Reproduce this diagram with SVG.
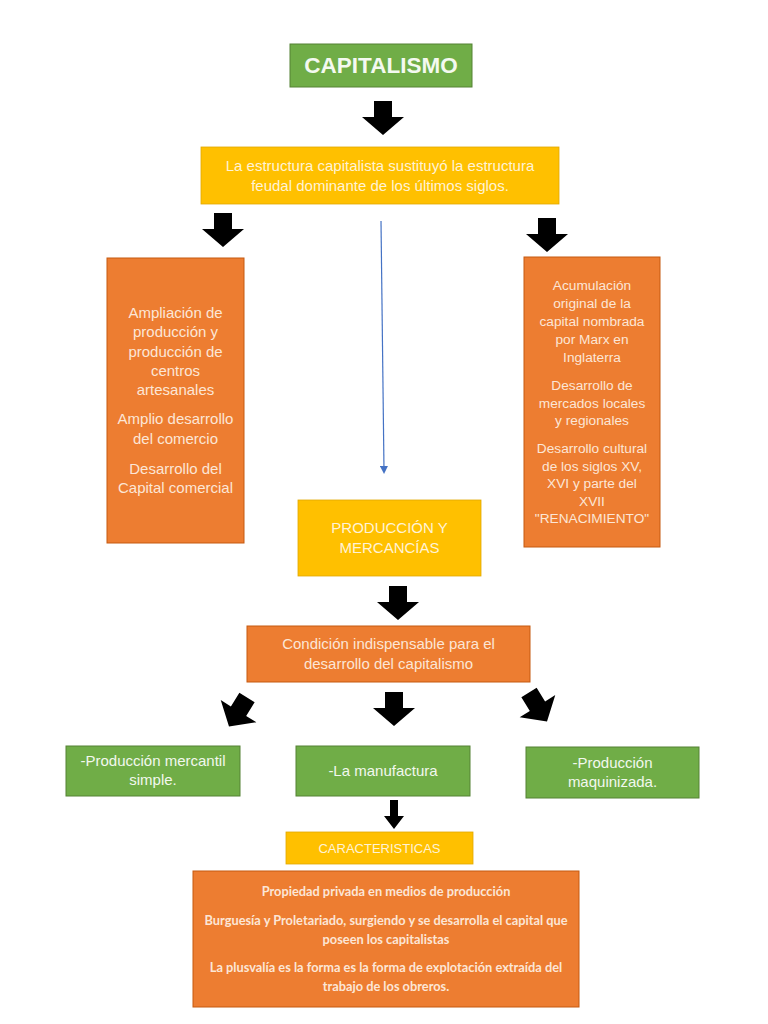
<svg xmlns="http://www.w3.org/2000/svg" width="768" height="1024" viewBox="0 0 768 1024">
<style>
.bg{fill:#ffffff}
.green{fill:#70AD47;stroke:#548235;stroke-width:1}
.yellow{fill:#FFC000;stroke:#E0A800;stroke-width:0.8}
.orange{fill:#ED7D31;stroke:#C55A11;stroke-width:1}
.t{font-family:"Liberation Sans",Arial,sans-serif;text-anchor:middle}
.ty{fill:#FFF3D6;font-size:15px}
.to{fill:#FCE6D6;font-size:15px}
.to14{fill:#FCE6D6;font-size:13.7px}
.tg{fill:#F2F8EE;font-size:15px}
.tb{font-family:Lato,"Open Sans",sans-serif;font-weight:700;fill:#FCE6D6;font-size:12.8px;text-anchor:middle}
.blk{fill:#000000}
.thin{stroke:#4472C4;stroke-width:1.2;fill:none}
</style>
<defs>
<path id="arr" d="M-9,-17 H9 V-1 H21 L0,17 L-21,-1 H-9 Z"/>
<path id="arrs" d="M-4,-15 H4 V1 H10 L0,14 L-10,1 H-4 Z"/>
<marker id="mh" markerWidth="8" markerHeight="8" refX="4" refY="4" orient="auto" markerUnits="userSpaceOnUse">
<path d="M0,0 L8,4 L0,8 Z" fill="#4472C4"/>
</marker>
</defs>
<rect class="bg" x="0" y="0" width="768" height="1024"/>

<g id="connectors">
<use href="#arr" class="blk" transform="translate(383,118)"/>
<use href="#arr" class="blk" transform="translate(223,230)"/>
<use href="#arr" class="blk" transform="translate(547,235)"/>
<line class="thin" x1="381" y1="221" x2="384" y2="470" marker-end="url(#mh)"/>
<use href="#arr" class="blk" transform="translate(398,603)"/>
<use href="#arr" class="blk" transform="translate(238,712) rotate(32)"/>
<use href="#arr" class="blk" transform="translate(394,709)"/>
<use href="#arr" class="blk" transform="translate(538,707) rotate(-32)"/>
<use href="#arrs" class="blk" transform="translate(394,815)"/>
</g>

<g id="capitalismo">
<rect class="green" x="290" y="44" width="182" height="43"/>
<text class="t" x="381" y="73" font-size="22.5" font-weight="700" fill="#F4F9F0">CAPITALISMO</text>
</g>

<g id="estructura">
<rect class="yellow" x="201" y="147" width="358" height="57"/>
<text class="t ty" x="380" y="171">La estructura capitalista sustituyó la estructura</text>
<text class="t ty" x="380" y="191">feudal dominante de los últimos siglos.</text>
</g>

<g id="izquierda">
<rect class="orange" x="107" y="258" width="137" height="285"/>
<text class="t to" x="175.5" y="318">Ampliación de</text>
<text class="t to" x="175.5" y="337">producción y</text>
<text class="t to" x="175.5" y="357">producción de</text>
<text class="t to" x="175.5" y="376">centros</text>
<text class="t to" x="175.5" y="395">artesanales</text>
<text class="t to" x="175.5" y="424">Amplio desarrollo</text>
<text class="t to" x="175.5" y="444">del comercio</text>
<text class="t to" x="175.5" y="474">Desarrollo del</text>
<text class="t to" x="175.5" y="493">Capital comercial</text>
</g>

<g id="derecha">
<rect class="orange" x="524" y="257" width="136" height="290"/>
<text class="t to14" x="592" y="290">Acumulación</text>
<text class="t to14" x="592" y="308">original de la</text>
<text class="t to14" x="592" y="326">capital nombrada</text>
<text class="t to14" x="592" y="344">por Marx en</text>
<text class="t to14" x="592" y="362">Inglaterra</text>
<text class="t to14" x="592" y="390">Desarrollo de</text>
<text class="t to14" x="592" y="407.5">mercados locales</text>
<text class="t to14" x="592" y="425">y regionales</text>
<text class="t to14" x="592" y="453">Desarrollo cultural</text>
<text class="t to14" x="592" y="470.5">de los siglos XV,</text>
<text class="t to14" x="592" y="488">XVI y parte del</text>
<text class="t to14" x="592" y="505.5">XVII</text>
<text class="t to14" x="592" y="523">"RENACIMIENTO"</text>
</g>

<g id="produccion">
<rect class="yellow" x="298" y="500" width="183" height="76"/>
<text class="t ty" x="389.5" y="533">PRODUCCIÓN Y</text>
<text class="t ty" x="389.5" y="553">MERCANCÍAS</text>
</g>

<g id="condicion">
<rect class="orange" x="247" y="626" width="283" height="56"/>
<text class="t to" x="388.5" y="649">Condición indispensable para el</text>
<text class="t to" x="388.5" y="669">desarrollo del capitalismo</text>
</g>

<g id="mercantil">
<rect class="green" x="66" y="746" width="174" height="50"/>
<text class="t tg" x="153" y="766">-Producción mercantil</text>
<text class="t tg" x="153" y="785">simple.</text>
</g>

<g id="manufactura">
<rect class="green" x="296" y="746" width="174" height="50"/>
<text class="t tg" x="383" y="776">-La manufactura</text>
</g>

<g id="maquinizada">
<rect class="green" x="526" y="747" width="173" height="51"/>
<text class="t tg" x="612.5" y="768">-Producción</text>
<text class="t tg" x="612.5" y="787">maquinizada.</text>
</g>

<g id="caracteristicas">
<rect class="yellow" x="286" y="832" width="187" height="32"/>
<text class="t ty" x="379.5" y="852.5" style="font-size:13px">CARACTERISTICAS</text>
</g>

<g id="lista">
<rect class="orange" x="193" y="871" width="386" height="136"/>
<text class="tb" x="386" y="896">Propiedad privada en medios de producción</text>
<text class="tb" x="386" y="925">Burguesía y Proletariado, surgiendo y se desarrolla el capital que</text>
<text class="tb" x="386" y="944">poseen los capitalistas</text>
<text class="tb" x="386" y="972">La plusvalía es la forma es la forma de explotación extraída del</text>
<text class="tb" x="386" y="991">trabajo de los obreros.</text>
</g>
</svg>
